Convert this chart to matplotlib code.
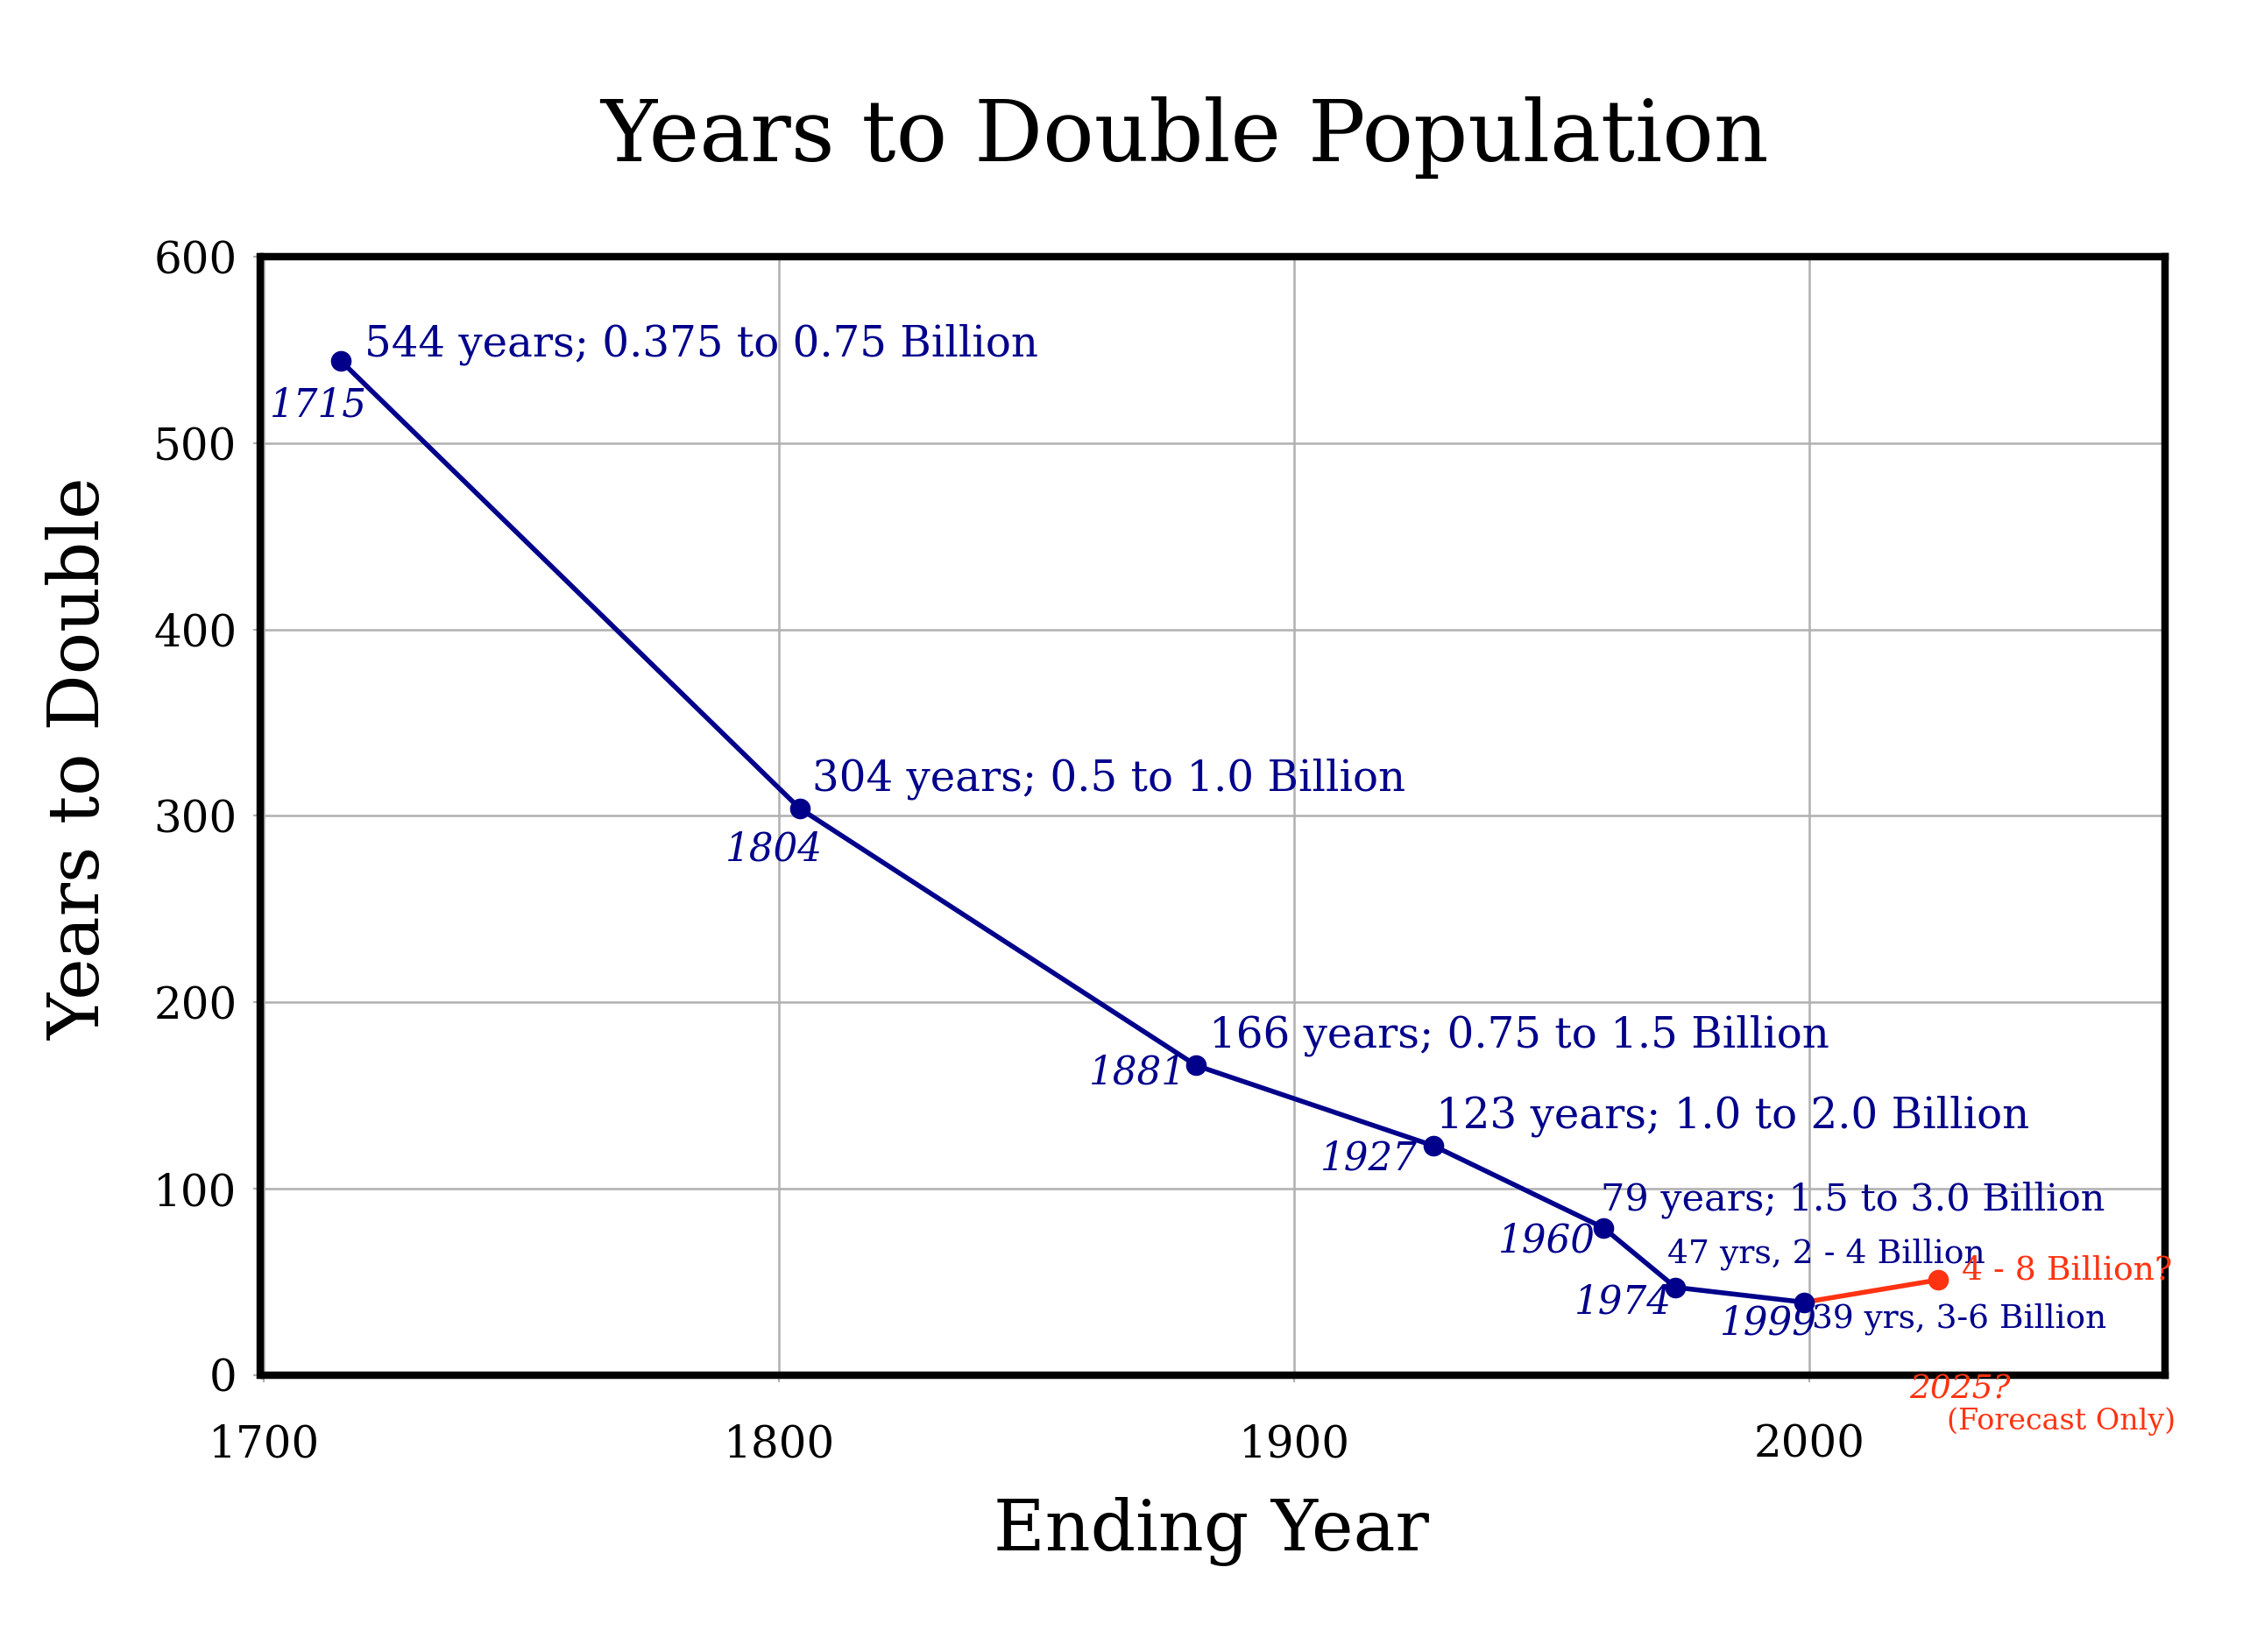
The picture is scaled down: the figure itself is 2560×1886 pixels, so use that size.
import matplotlib
matplotlib.use("Agg")
import matplotlib.pyplot as plt

plt.rcParams['font.family'] = ['DejaVu Serif']

# ---- data ----
years = [1715, 1804, 1881, 1927, 1960, 1974, 1999]
years_to_double = [544, 304, 166, 123, 79, 47, 39]
value_labels = ["544 years; 0.375 to 0.75 Billion", "304 years; 0.5 to 1.0 Billion",
                "166 years; 0.75 to 1.5 Billion", "123 years; 1.0 to 2.0 Billion",
                "79 years; 1.5 to 3.0 Billion", "47 yrs, 2 - 4 Billion", "39 yrs, 3-6 Billion"]
year_labels = ["1715", "1804", "1881", "1927", "1960", "1974", "1999"]
forecast_years = [1999, 2025]
forecast_values = [39, 51]
forecast_value_label = "4 - 8 Billion?"
forecast_year_label = "2025?"
forecast_note = "(Forecast Only)"
x_ticks = [1700, 1800, 1900, 2000]
y_ticks = [0, 100, 200, 300, 400, 500, 600]

# ---- label placement (data coords) and sizes ----
value_pos = [(1719.5, 553), (1806.5, 320), (1883.5, 182), (1927.5, 139), (1959.5, 94), (1972.5, 65), (2000.5, 30)]
value_sizes = [17.4, 17.4, 17.4, 17.4, 15.5, 13.6, 13.5]
year_pos = [(1720, 520), (1808.5, 282), (1879, 162), (1924, 116), (1958.5, 72), (1973.2, 39), (2001.5, 27.5)]

NAVY = '#00008B'
RED = '#FF3311'

fig = plt.figure(figsize=(12.8, 9.43), dpi=200)
ax = fig.add_axes([0.11758, 0.16771, 0.9652 - 0.11758, 0.84464 - 0.16771])

ax.plot(years, years_to_double, color=NAVY, lw=2.0, marker='o', ms=7.5, zorder=3)
ax.plot(forecast_years, forecast_values, color=RED, lw=2.0, zorder=2)
ax.plot(forecast_years[1:], forecast_values[1:], color=RED, marker='o', ms=7.5, lw=0, zorder=3)

for (x, y), txt, s in zip(value_pos, value_labels, value_sizes):
    ax.text(x, y, txt, color=NAVY, fontsize=s, ha='left', va='center')
for (x, y), txt in zip(year_pos, year_labels):
    ax.text(x, y, txt, color=NAVY, fontsize=15.7, style='italic', ha='right', va='center')

ax.text(2029.5, 56, forecast_value_label, color=RED, fontsize=13.6, ha='left', va='center')
ax.text(2039, -7.7, forecast_year_label, color=RED, fontsize=13.5, style='italic', ha='right', va='center', clip_on=False)
ax.text(2071, -25, forecast_note, color=RED, fontsize=12, ha='right', va='center', clip_on=False)

ax.set_xlim(1700, 2069)
ax.set_ylim(0, 600)
ax.set_xticks(x_ticks)
ax.set_yticks(y_ticks)
ax.grid(True, color='#b0b0b0', lw=0.9)
ax.set_axisbelow(True)
ax.tick_params(axis='both', labelsize=18, length=3, color='#b0b0b0')
ax.tick_params(axis='x', pad=17)
ax.tick_params(axis='y', pad=6.5)
for sp in ax.spines.values():
    sp.set_linewidth(3.05)
    sp.set_color('black')
ax.spines['left'].set_position(('outward', 1.5))

fig.text(0.528, 0.917, "Years to Double Population", fontsize=35, ha='center', va='center')
fig.text(0.54, 0.073, "Ending Year", fontsize=29, ha='center', va='center')
fig.text(0.036, 0.541, "Years to Double", fontsize=29, ha='center', va='center', rotation=90)

fig.savefig("out.png", dpi=200)
